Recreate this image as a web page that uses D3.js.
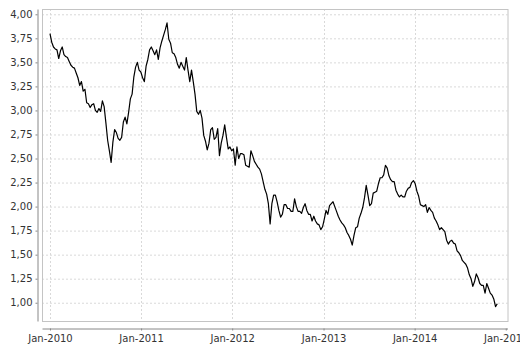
<!DOCTYPE html>
<html>
<head>
<meta charset="utf-8">
<script src="https://cdn.jsdelivr.net/npm/d3@7"></script>
<style>
  body { margin: 0; background: #fff; }
  svg { display: block; font-family: "DejaVu Sans", sans-serif; }
</style>
</head>
<body>
<div id="chart"></div>
<script>
// weekly closes, first point on 1 Jan 2010
const startDate = new Date(2010, 0, 1);

const values2010 = [3.80, 3.71, 3.66, 3.64, 3.63, 3.54, 3.62, 3.66, 3.58, 3.56,
  3.55, 3.51, 3.47, 3.45, 3.44, 3.39, 3.34, 3.26, 3.30, 3.20,
  3.22, 3.08, 3.07, 3.03, 3.06, 3.07, 3.00, 2.98, 3.02, 2.99,
  3.10, 3.04, 2.87, 2.69, 2.58, 2.46, 2.67, 2.80, 2.77, 2.71,
  2.69, 2.72, 2.88, 2.93, 2.86, 2.98, 3.12, 3.17, 3.35, 3.45,
  3.50, 3.42];
const values2011 = [3.40, 3.34, 3.30, 3.46, 3.53, 3.63, 3.66, 3.62, 3.58, 3.63,
  3.53, 3.65, 3.72, 3.78, 3.84, 3.91, 3.74, 3.70, 3.60, 3.59,
  3.55, 3.48, 3.44, 3.50, 3.46, 3.42, 3.55, 3.42, 3.30, 3.42,
  3.30, 3.17, 2.99, 2.96, 3.00, 2.92, 2.74, 2.68, 2.59, 2.66,
  2.80, 2.82, 2.70, 2.72, 2.81, 2.53, 2.66, 2.74, 2.85, 2.72,
  2.60, 2.62];
const values2012 = [2.58, 2.60, 2.43, 2.62, 2.50, 2.55, 2.55, 2.54, 2.43, 2.42,
  2.41, 2.58, 2.53, 2.47, 2.44, 2.41, 2.39, 2.34, 2.26, 2.18,
  2.13, 2.03, 1.82, 2.03, 2.12, 2.12, 2.05, 1.96, 1.89, 1.92,
  2.02, 2.02, 1.98, 1.98, 1.95, 1.95, 2.08, 2.00, 1.95, 1.95,
  1.93, 1.99, 2.03, 1.96, 1.92, 1.92, 1.85, 1.90, 1.85, 1.82,
  1.81, 1.76];
const values2013 = [1.79, 1.87, 1.96, 1.92, 2.01, 2.03, 2.05, 2.00, 1.95, 1.90,
  1.86, 1.83, 1.81, 1.78, 1.73, 1.70, 1.66, 1.60, 1.70, 1.78,
  1.79, 1.88, 1.93, 1.99, 2.09, 2.22, 2.12, 2.01, 2.03, 2.14,
  2.15, 2.16, 2.24, 2.30, 2.30, 2.33, 2.43, 2.40, 2.32, 2.28,
  2.26, 2.26, 2.17, 2.13, 2.10, 2.12, 2.10, 2.10, 2.16, 2.19,
  2.20, 2.25];
const values2014 = [2.27, 2.24, 2.16, 2.11, 2.02, 2.01, 2.00, 2.02, 1.94, 1.99,
  1.96, 1.94, 1.88, 1.85, 1.81, 1.76, 1.78, 1.76, 1.74, 1.65,
  1.61, 1.64, 1.65, 1.62, 1.61, 1.54, 1.52, 1.49, 1.44, 1.42,
  1.40, 1.36, 1.29, 1.25, 1.17, 1.22, 1.30, 1.26, 1.20, 1.18,
  1.18, 1.10, 1.20, 1.15, 1.10, 1.08, 1.04, 0.96, 0.99];

const yTicks = [1.00, 1.25, 1.50, 1.75, 2.00, 2.25, 2.50, 2.75, 3.00, 3.25, 3.50, 3.75, 4.00];
const xTicks = [2010, 2011, 2012, 2013, 2014, 2015].map(y => new Date(y, 0, 1));

const allValues = [].concat(values2010, values2011, values2012, values2013, values2014);
const data = allValues.map((v, i) => ({ date: d3.timeDay.offset(startDate, i * 7), value: v }));

const width = 520;
const height = 347;
const plot = { left: 42, right: 507.5, top: 9, bottom: 321 };

const svg = d3.select('#chart')
  .append('svg')
  .attr('width', width)
  .attr('height', height);

const x = d3.scaleTime()
  .domain([new Date(2009, 10, 30), new Date(2015, 0, 8)])
  .range([plot.left, plot.right]);

const y = d3.scaleLinear()
  .domain([0.81, 4.055])
  .range([plot.bottom, plot.top]);

const comma = d3.formatLocale({ decimal: ',', thousands: '.', grouping: [3], currency: ['', ''] }).format('.2f');

// gridlines
svg.append('g')
  .selectAll('line')
  .data(yTicks)
  .join('line')
  .attr('x1', plot.left)
  .attr('x2', plot.right)
  .attr('y1', d => y(d) + 0.5)
  .attr('y2', d => y(d) + 0.5)
  .attr('stroke', '#d9d9d9')
  .attr('stroke-dasharray', '2,2');

svg.append('g')
  .selectAll('line')
  .data(xTicks.filter(d => x(d) < plot.right - 3))
  .join('line')
  .attr('x1', d => Math.round(x(d)) + 0.5)
  .attr('x2', d => Math.round(x(d)) + 0.5)
  .attr('y1', plot.top)
  .attr('y2', plot.bottom)
  .attr('stroke', '#d9d9d9')
  .attr('stroke-dasharray', '2,2');

// plot border
svg.append('rect')
  .attr('x', plot.left + 0.5)
  .attr('y', plot.top + 0.5)
  .attr('width', plot.right - plot.left)
  .attr('height', plot.bottom - plot.top)
  .attr('fill', 'none')
  .attr('stroke', '#c4c4c4');

// series
svg.append('path')
  .datum(data)
  .attr('fill', 'none')
  .attr('stroke', '#000')
  .attr('stroke-width', 1.2)
  .attr('stroke-linejoin', 'round')
  .attr('d', d3.line().x(d => x(d.date)).y(d => y(d.value)));

function yAxis(g) {
  g.attr('transform', 'translate(37.5,0)')
    .call(d3.axisLeft(y).tickValues(yTicks).tickFormat(comma).tickSize(2).tickSizeOuter(0).tickPadding(3));
}

function xAxis(g) {
  g.attr('transform', 'translate(0,328.5)')
    .call(d3.axisBottom(x).tickValues(xTicks).tickFormat(d3.timeFormat('%b-%Y')).tickSize(2).tickSizeOuter(0).tickPadding(4));
}

svg.append('g').call(yAxis);
svg.append('g').call(xAxis);

svg.selectAll('.domain, .tick line').attr('stroke', '#888');
svg.selectAll('.tick text')
  .attr('font-family', '"DejaVu Sans", sans-serif')
  .attr('font-size', '10px')
  .attr('fill', '#333');
</script>
</body>
</html>
